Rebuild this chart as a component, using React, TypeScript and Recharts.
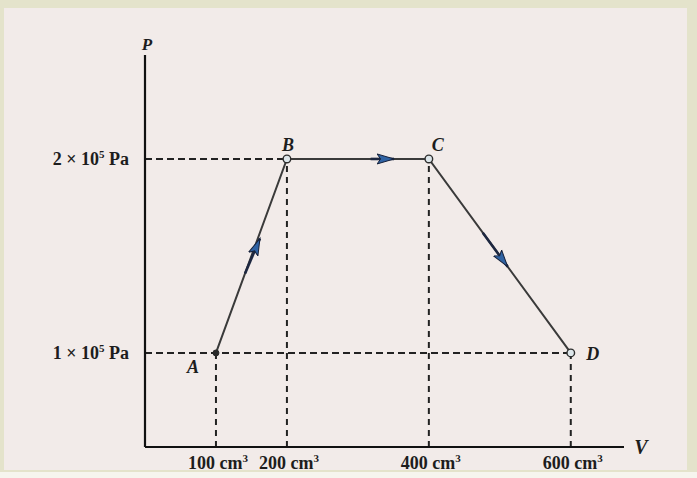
import React from 'react';
import { LineChart, Line, XAxis, YAxis, ReferenceLine } from 'recharts';

// state points of the cycle (V in cm³, P in Pa)
const pointNames = ['A', 'B', 'C', 'D'];
const volumes = [100, 200, 400, 600];
const pressures = [100000, 200000, 200000, 100000];

const volumeTicks = [100, 200, 400, 600];
const pressureTicks = [100000, 200000];
const pressureTickMantissa = ['1', '2'];

// direction arrows drawn on the path (tail -> tip)
const arrowFromV = [141, 318, 476];
const arrowFromP = [141000, 200000, 162000];
const arrowToV = [162, 351, 511];
const arrowToP = [159000, 200000, 144500];

const pathData = volumes.map((v, i) => ({ v, p: pressures[i], name: pointNames[i] }));
const arrowData = arrowFromV.map((v, i) => [
  { v, p: arrowFromP[i] },
  { v: arrowToV[i], p: arrowToP[i] },
]);

const serif = '"Liberation Serif", "DejaVu Serif", serif';
const ink = '#1d1d1d';
const lineColor = '#3a3a3a';

const labelOffsets: Record<string, [number, number]> = {
  A: [-23, 20],
  B: [1, -8],
  C: [9, -8],
  D: [22, 7],
};

const renderDot = (props: any) => {
  const { cx, cy, index, payload } = props;
  const name = payload.name;
  const [dx, dy] = labelOffsets[name];
  return (
    <g key={`dot-${index}`}>
      {name === 'A' ? (
        <circle cx={cx} cy={cy} r={3} fill="#2a2a2a" stroke="#2a2a2a" />
      ) : (
        <circle cx={cx} cy={cy} r={3.8} fill="#dde6ea" stroke="#2e2e2e" strokeWidth={1.4} />
      )}
      <text
        x={cx + dx}
        y={cy + dy}
        textAnchor="middle"
        fontFamily={serif}
        fontWeight="bold"
        fontStyle="italic"
        fontSize={18}
        fill={ink}
      >
        {name}
      </text>
    </g>
  );
};

const VolumeTick = ({ x, y, payload }: any) => (
  <text x={x + 2} y={y + 14} textAnchor="middle" fontFamily={serif} fontWeight="bold" fontSize={18} fill={ink}>
    {payload.value} cm<tspan dy={-7} fontSize={11}>3</tspan>
  </text>
);

const PressureTick = ({ x, y, payload }: any) => {
  const i = pressureTicks.indexOf(payload.value);
  return (
    <text x={x - 8} y={y + 6} textAnchor="end" fontFamily={serif} fontWeight="bold" fontSize={18} fill={ink}>
      {pressureTickMantissa[i]} × 10<tspan dy={-7} fontSize={11}>5</tspan>
      <tspan dy={7}> Pa</tspan>
    </text>
  );
};

const App = () => {
  return (
    <div style={{ position: 'absolute', left: 0, top: 0, width: 697, height: 478, background: '#e4e3cb', overflow: 'hidden' }}>
      <div style={{ position: 'absolute', left: 4, top: 8, width: 683, height: 462, background: '#f2ebe9' }} />
      <div style={{ position: 'absolute', left: 0, top: 472, width: 697, height: 6, background: '#f6f5ee' }} />
      <svg width={0} height={0} style={{ position: 'absolute' }}>
        <defs>
          <marker
            id="flowArrow"
            markerUnits="userSpaceOnUse"
            markerWidth={20}
            markerHeight={14}
            refX={17}
            refY={7}
            orient="auto"
          >
            <path d="M0,2 L17,7 L0,12 L3.5,7 Z" fill="#2f62a3" stroke="#16213a" strokeWidth={1} />
          </marker>
        </defs>
      </svg>
      <div style={{ position: 'absolute', left: 0, top: 0 }}>
        <LineChart width={697} height={478} margin={{ top: 55, right: 73, bottom: 6, left: 45 }}>
          <XAxis
            type="number"
            dataKey="v"
            domain={[0, 675]}
            ticks={volumeTicks}
            allowDataOverflow
            height={25}
            tickLine={false}
            axisLine={{ stroke: '#111', strokeWidth: 2.2 }}
            tick={<VolumeTick />}
            label={{
              content: ({ viewBox }: any) => (
                <text
                  x={viewBox.x + viewBox.width + 17}
                  y={viewBox.y + 7}
                  textAnchor="middle"
                  fontFamily={serif}
                  fontWeight="bold"
                  fontStyle="italic"
                  fontSize={20}
                  fill={ink}
                >
                  V
                </text>
              ),
            }}
          />
          <YAxis
            type="number"
            dataKey="p"
            domain={[51500, 253600]}
            ticks={pressureTicks}
            allowDataOverflow
            width={100}
            tickLine={false}
            axisLine={{ stroke: '#111', strokeWidth: 2.2 }}
            tick={<PressureTick />}
            label={{
              content: ({ viewBox }: any) => (
                <text
                  x={viewBox.x + viewBox.width + 2}
                  y={viewBox.y - 5}
                  textAnchor="middle"
                  fontFamily={serif}
                  fontWeight="bold"
                  fontStyle="italic"
                  fontSize={17}
                  fill={ink}
                >
                  P
                </text>
              ),
            }}
          />

          {/* dashed guides to the axes */}
          <ReferenceLine
            segment={[{ x: 0, y: pressures[0] }, { x: volumes[3], y: pressures[3] }]}
            stroke="#222"
            strokeWidth={2}
            strokeDasharray="7 4"
            ifOverflow="visible"
          />
          <ReferenceLine
            segment={[{ x: 0, y: pressures[1] }, { x: volumes[1], y: pressures[1] }]}
            stroke="#222"
            strokeWidth={2}
            strokeDasharray="7 4"
            ifOverflow="visible"
          />
          {volumes.map((v, i) => (
            <ReferenceLine
              key={`guide-${i}`}
              segment={[{ x: v, y: 51500 }, { x: v, y: pressures[i] }]}
              stroke="#222"
              strokeWidth={2}
              strokeDasharray="6 5"
              ifOverflow="visible"
            />
          ))}

          <Line
            data={pathData}
            dataKey="p"
            type="linear"
            stroke={lineColor}
            strokeWidth={2}
            dot={renderDot}
            activeDot={false}
            isAnimationActive={false}
          />
          {arrowData.map((d, i) => (
            <Line
              key={`arrow-${i}`}
              data={d}
              dataKey="p"
              type="linear"
              stroke="#1d2740"
              strokeWidth={2.6}
              dot={false}
              activeDot={false}
              markerEnd="url(#flowArrow)"
              isAnimationActive={false}
            />
          ))}
        </LineChart>
      </div>
    </div>
  );
};

export default App;
